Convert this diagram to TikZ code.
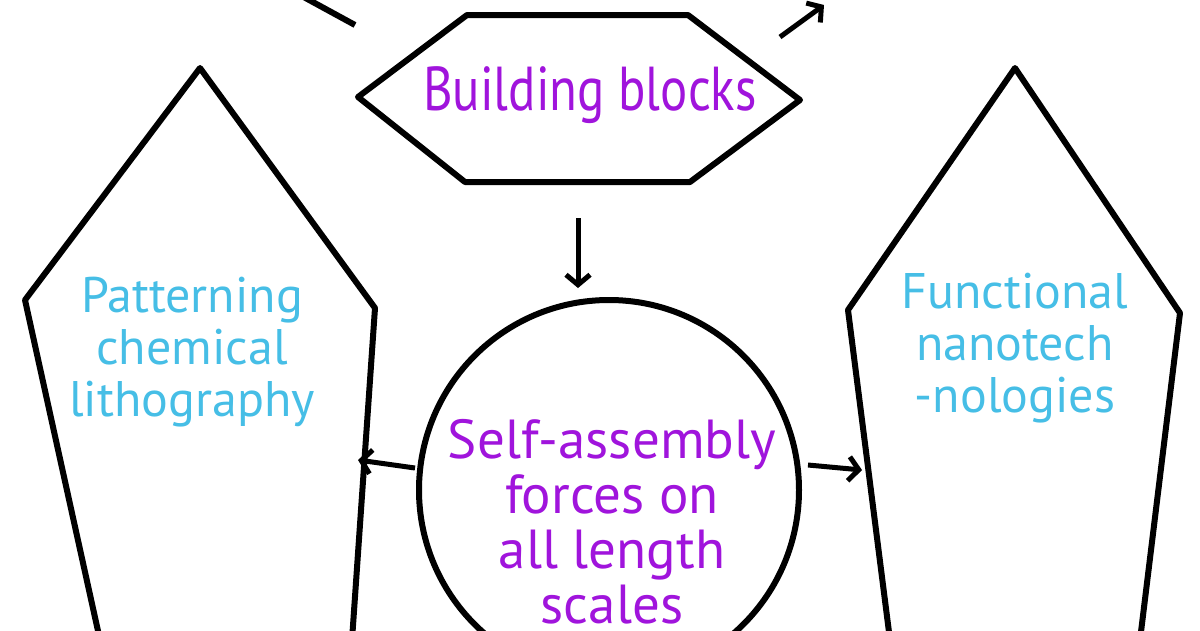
\documentclass[tikz,border=0pt]{standalone}
\usepackage{fontspec}
\setmainfont{PT Sans}
\usetikzlibrary{arrows.meta}
\definecolor{purp}{RGB}{160,20,220}
\definecolor{cy}{RGB}{70,190,230}
\begin{document}
\begin{tikzpicture}[x=1pt,y=-1pt,line width=6pt,line join=round,
  arr/.style={-{Straight Barb[length=10pt,width=24pt,line width=5pt]},line width=5pt},
  ptxt/.style={text=purp,align=center},
  ctxt/.style={text=cy,align=center,font=\fontsize{50}{52}\selectfont}]
\path[use as bounding box] (0,0) rectangle (1200,630);
\fill[white] (0,0) rectangle (1200,630);
\draw (358,97) -- (467,15) -- (688,15) -- (800,100) -- (690,182) -- (465,182) -- cycle;
\node[ptxt,font=\fontsize{62}{62}\selectfont] (bb) at (590,95) {\scalebox{0.82}[1]{Building blocks}};
\draw (100,640) -- (25,300) -- (200,68) -- (375,308) -- (352,640);
\node[ctxt] (pat) at (192,352) {Patterning\\chemical\\lithography};
\draw (890,640) -- (848,310) -- (1015,68) -- (1180,313) -- (1140,640);
\node[ctxt] (fun) at (1015,348) {Functional\\nanotech\\-nologies};
\draw (609,490) circle (190);
\node[ptxt,font=\fontsize{55}{55}\selectfont] (sa) at (612,522) {Self-assembly\\forces on\\all length\\scales};
\coordinate (d1) at (578,218); \coordinate (d2) at (578,288);
\draw[arr] (d1) -- (d2);
\coordinate (l1) at (415,468); \coordinate (l2) at (358,460);
\draw[arr] (l1) -- (l2);
\coordinate (r1) at (808,465); \coordinate (r2) at (862,470);
\draw[arr] (r1) -- (r2);
\coordinate (t1) at (300,-5); \coordinate (t2) at (355,25);
\draw (t1) -- (t2);
\coordinate (u1) at (780,37); \coordinate (u2) at (824,5);
\draw[arr] (u1) -- (u2);
\end{tikzpicture}
\end{document}
